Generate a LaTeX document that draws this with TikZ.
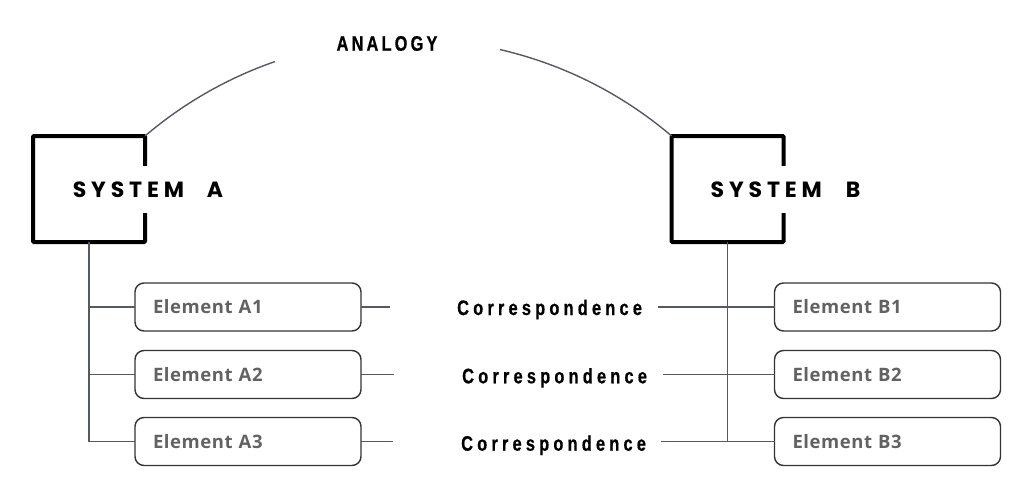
\documentclass[tikz,border=0pt]{standalone}
\usepackage{fontspec}
\setmainfont{Open Sans}
\newfontfamily\corrfont{Liberation Sans}[FakeStretch=0.78,LetterSpace=20,FakeBold=0.6]
\newfontfamily\anafont{Liberation Sans}[FakeStretch=0.78,LetterSpace=15,FakeBold=0.6]
\newfontfamily\sysfont{Poppins}[LetterSpace=22]
\newfontfamily\elemfont{Open Sans}[LetterSpace=3]
\definecolor{linegray}{HTML}{555966}
\definecolor{boxgray}{HTML}{333333}
\definecolor{textgray}{HTML}{626262}
\tikzset{
  sysbox/.style={draw=black, line width=4pt, minimum width=112pt, minimum height=106pt,
    inner sep=0pt, outer sep=0pt, rounded corners=1pt},
  syslabel/.style={fill=white, font=\sysfont\bfseries\fontsize{22}{26}\selectfont,
    minimum height=47pt, inner xsep=6pt, inner ysep=0pt},
  elembox/.style={draw=boxgray, line width=1.4pt, rounded corners=9pt, minimum width=226pt,
    minimum height=48pt, text width=190pt, inner xsep=18pt, align=left,
    font=\elemfont\bfseries\fontsize{18.5}{22}\selectfont, text=textgray, outer sep=0pt},
  corr/.style={font=\corrfont\bfseries\fontsize{21}{25}\selectfont, inner sep=0pt, anchor=base west},
  tree/.style={draw=linegray, line width=1.4pt},
  analogy/.style={fill=white, font=\anafont\bfseries\fontsize{21}{25}\selectfont,
    minimum width=225pt, minimum height=37pt, inner sep=0pt}
}
\begin{document}
\begin{tikzpicture}[x=1pt,y=-1pt]
\useasboundingbox (0,0) rectangle (1024,490);
% system boxes
\node[sysbox] (sysA) at (89,189) {};
\node[sysbox] (sysB) at (727.5,189) {};
% analogy arc
\draw[tree] (sysA.north east) arc[start angle=130.4, end angle=49.6, radius=406.3pt];
\node[analogy] (analogy) at (387,43.5) {ANALOGY};
% system labels
\node[syslabel] (labA) at (148,189.5) {SYSTEM\hspace{23pt}A};
\node[syslabel] (labB) at (785.5,189.5) {SYSTEM\hspace{24pt}B};
% elements
\node[elembox] (A1) at (248,307) {Element A1};
\node[elembox] (A2) at (248,374.5) {Element A2};
\node[elembox] (A3) at (248,441.5) {Element A3};
\node[elembox] (B1) at (887.5,307) {Element B1};
\node[elembox] (B2) at (887.5,374.5) {Element B2};
\node[elembox] (B3) at (887.5,441.5) {Element B3};
% correspondences
\node[corr] (c1) at (457,315) {Correspondence};
\node[corr] (c2) at (462,383.3) {Correspondence};
\node[corr] (c3) at (461,450.7) {Correspondence};
% tree A
\draw[tree] (sysA.south) |- (A3.west);
\draw[tree] (sysA.south |- A1.west) -- (A1.west);
\draw[tree] (sysA.south |- A2.west) -- (A2.west);
% tree B
\draw[tree] (sysB.south) |- (B3.west);
% correspondence lines
\draw[tree] (A1.east) -- ([xshift=-67pt]c1.west |- A1.east);
\draw[tree] ([xshift=16pt]c1.east |- B1.west) -- (B1.west);
\draw[tree] (A2.east) -- ([xshift=-68pt]c2.west |- A2.east);
\draw[tree] ([xshift=16pt]c2.east |- B2.west) -- (B2.west);
\draw[tree] (A3.east) -- ([xshift=-68pt]c3.west |- A3.east);
\draw[tree] ([xshift=15pt]c3.east |- B3.west) -- (B3.west);
\end{tikzpicture}
\end{document}
